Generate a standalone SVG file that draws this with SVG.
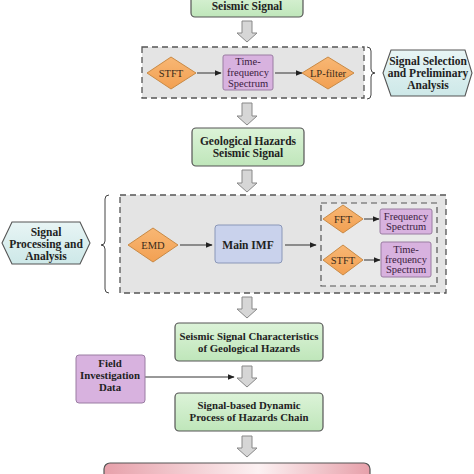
<svg xmlns="http://www.w3.org/2000/svg" width="474" height="474" viewBox="0 0 474 474">
<defs>
<linearGradient id="gGreen" x1="0" y1="0" x2="0" y2="1"><stop offset="0" stop-color="#dcf3d8"/><stop offset="1" stop-color="#bfe6ba"/></linearGradient>
<linearGradient id="gCyan" x1="0" y1="0" x2="0" y2="1"><stop offset="0" stop-color="#e8f5f5"/><stop offset="1" stop-color="#cde8e8"/></linearGradient>
<linearGradient id="gPink" x1="0" y1="0" x2="1" y2="0"><stop offset="0" stop-color="#e7a0aa"/><stop offset="0.58" stop-color="#fcf1f2"/><stop offset="1" stop-color="#e7a0aa"/></linearGradient>
<linearGradient id="gOrange" x1="0" y1="0" x2="0" y2="1"><stop offset="0" stop-color="#f8b774"/><stop offset="1" stop-color="#f2a052"/></linearGradient>
<marker id="ah" viewBox="0 0 10 10" refX="9" refY="5" markerWidth="7" markerHeight="7" orient="auto" markerUnits="userSpaceOnUse"><path d="M0,1 L10,5 L0,9 Z" fill="#222"/></marker>
</defs>
<style>
.green{fill:url(#gGreen);stroke:#555;stroke-width:1.2}
.hex{fill:url(#gCyan);stroke:#555;stroke-width:1.1}
.dia{fill:url(#gOrange);stroke:#c98a45;stroke-width:1}
.purple{fill:#d8b2df;stroke:#9a7ca2;stroke-width:1}
.blue{fill:#c9d2ec;stroke:#8a97b8;stroke-width:1}
.dash{fill:#e4e4e4;stroke:#555;stroke-width:1.3;stroke-dasharray:6,4}
.dash2{fill:#e9e9e9;stroke:#555;stroke-width:1.2;stroke-dasharray:6,4}
.blk{fill:#d6d6d6;stroke:#888;stroke-width:1}
.brace{fill:none;stroke:#444;stroke-width:1}
.conn{stroke:#333;stroke-width:1;fill:none;marker-end:url(#ah)}
text{font-family:"Times New Roman","Liberation Serif",serif;fill:#222;text-anchor:middle}
.b{font-weight:bold;font-size:11.5px}
.bs{font-weight:bold;font-size:10.8px}
.r{font-size:10.5px;fill:#3a2a1a}
.rp{font-size:10.5px;fill:#3a2040}
</style>
<rect x="0" y="0" width="474" height="474" fill="#ffffff"/>

<g id="containers">
<rect class="dash" x="142" y="47" width="222" height="51"/>
<path class="brace" d="M367,47 Q371,47 371,51 L371,69 Q371,73 375,73 Q371,73 371,77 L371,95 Q371,99 367,99"/>
<rect class="dash" x="120" y="195" width="326" height="98"/>
<rect class="dash2" x="321" y="203" width="116" height="83"/>
<path class="brace" d="M109,195 Q105,195 105,199 L105,241 Q105,245 101,245 Q105,245 105,249 L105,289 Q105,293 109,293"/>
</g>

<g id="blockarrows">
<polygon class="blk" points="242,21 252,21 252,33 257,33 247,42 237,33 242,33"/>
<polygon class="blk" points="242,103 252,103 252,116 257,116 247,125 237,116 242,116"/>
<polygon class="blk" points="242,170 252,170 252,183 257,183 247,192 237,183 242,183"/>
<polygon class="blk" points="242,297 252,297 252,309 257,309 247,318 237,309 242,309"/>
<polygon class="blk" points="242,366 252,366 252,378 257,378 247,387 237,378 242,378"/>
<polygon class="blk" points="242,436 252,436 252,448 257,448 247,457 237,448 242,448"/>
</g>

<g id="connectors">
<line class="conn" x1="197" y1="73" x2="221" y2="73"/>
<line class="conn" x1="275" y1="73" x2="302" y2="73"/>
<line class="conn" x1="180" y1="245" x2="212" y2="245"/>
<line class="conn" x1="285" y1="245" x2="316" y2="245"/>
<line class="conn" x1="364" y1="219" x2="379" y2="219"/>
<line class="conn" x1="364" y1="260" x2="380" y2="260"/>
<line class="conn" x1="145" y1="377" x2="234" y2="377"/>
</g>

<g id="n-seismic">
<rect class="green" x="191" y="-8" width="112" height="25" rx="4"/>
<text class="b" x="247" y="10" font-size="12">Seismic Signal</text>
</g>

<g id="n-stft1">
<polygon class="dia" points="147,73 171,57 196,73 171,89"/>
<text class="r" x="171" y="77">STFT</text>
</g>
<g id="n-tfs1">
<rect class="purple" x="223" y="55" width="50" height="35" rx="2"/>
<text class="rp" x="248" y="65">Time-</text>
<text class="rp" x="248" y="76">frequency</text>
<text class="rp" x="248" y="87">Spectrum</text>
</g>
<g id="n-lp">
<polygon class="dia" points="302,73 328,57 354,73 328,89"/>
<text class="r" x="328" y="77">LP-filter</text>
</g>
<g id="n-hex1">
<polygon class="hex" points="383,73 391,50 465,50 472,73 465,96 391,96"/>
<text class="b" x="428" y="65" font-size="11">Signal Selection</text>
<text class="b" x="428" y="77" font-size="11">and Preliminary</text>
<text class="b" x="428" y="89" font-size="11">Analysis</text>
</g>

<g id="n-geo">
<rect class="green" x="192" y="128" width="112" height="38" rx="4"/>
<text class="b" x="248" y="145">Geological Hazards</text>
<text class="b" x="248" y="157">Seismic Signal</text>
</g>

<g id="n-hex2">
<polygon class="hex" points="2,243 12,222 80,222 90,243 80,264 12,264"/>
<text class="b" x="46" y="236" font-size="11">Signal</text>
<text class="b" x="46" y="248" font-size="11">Processing and</text>
<text class="b" x="46" y="260" font-size="11">Analysis</text>
</g>
<g id="n-emd">
<polygon class="dia" points="128,245 153,228 178,245 153,262"/>
<text class="r" x="153" y="249">EMD</text>
</g>
<g id="n-imf">
<rect class="blue" x="215" y="225" width="67" height="38" rx="3"/>
<text class="b" x="248" y="249" font-size="11">Main IMF</text>
</g>
<g id="n-fft">
<polygon class="dia" points="323,219 343,205 363,219 343,233"/>
<text class="r" x="343" y="223">FFT</text>
</g>
<g id="n-fs">
<rect class="purple" x="380" y="209" width="52" height="25" rx="2"/>
<text class="rp" x="406" y="220" font-size="11">Frequency</text>
<text class="rp" x="406" y="230" font-size="11">Spectrum</text>
</g>
<g id="n-stft2">
<polygon class="dia" points="323,260 343,245 363,260 343,275"/>
<text class="r" x="343" y="264">STFT</text>
</g>
<g id="n-tfs2">
<rect class="purple" x="381" y="242" width="50" height="35" rx="2"/>
<text class="rp" x="406" y="253" font-size="11">Time-</text>
<text class="rp" x="406" y="263" font-size="11">frequency</text>
<text class="rp" x="406" y="273" font-size="11">Spectrum</text>
</g>

<g id="n-char">
<rect class="green" x="175" y="323" width="148" height="38" rx="4"/>
<text class="bs" x="249" y="340">Seismic Signal Characteristics</text>
<text class="bs" x="249" y="352">of Geological Hazards</text>
</g>
<g id="n-field">
<rect class="purple" x="76" y="355" width="69" height="48" rx="3"/>
<text class="bs" x="110" y="367" fill="#2a1a30">Field</text>
<text class="bs" x="110" y="379" fill="#2a1a30">Investigation</text>
<text class="bs" x="110" y="391" fill="#2a1a30">Data</text>
</g>
<g id="n-chain">
<rect class="green" x="175" y="393" width="148" height="38" rx="4"/>
<text class="bs" x="249" y="409">Signal-based Dynamic</text>
<text class="bs" x="249" y="421">Process of Hazards Chain</text>
</g>
<g id="n-bottom">
<rect x="104" y="463" width="266" height="20" rx="6" fill="url(#gPink)" stroke="#555" stroke-width="1.2"/>
</g>
</svg>
